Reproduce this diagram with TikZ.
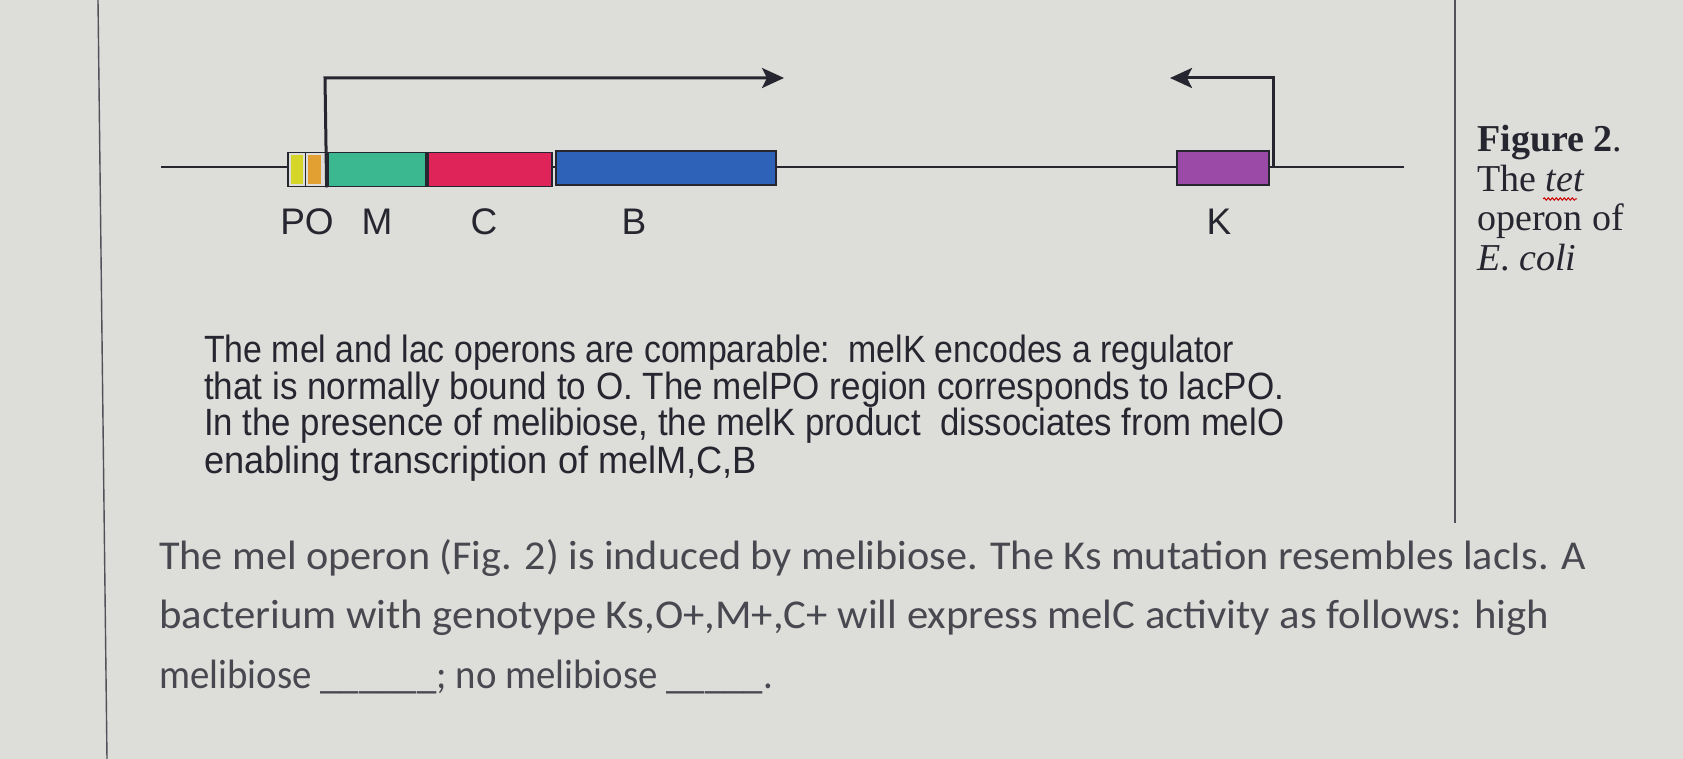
\documentclass[tikz,border=0pt]{standalone}
\usepackage{fontspec}
\setmainfont{Liberation Serif}
\newfontfamily\arialf{Liberation Sans}
\newfontfamily\calib{Carlito}
\usetikzlibrary{arrows.meta,decorations.pathmorphing}
\definecolor{paper}{RGB}{221,221,217}
\definecolor{ink}{RGB}{38,38,48}
\definecolor{greyink}{RGB}{72,72,80}
\definecolor{cyel}{RGB}{214,214,40}
\definecolor{corg}{RGB}{226,160,50}
\definecolor{cgrn}{RGB}{60,184,144}
\definecolor{cred}{RGB}{222,36,88}
\definecolor{cblu}{RGB}{46,98,184}
\definecolor{cpur}{RGB}{155,74,168}
\newsavebox\linebox
\newcommand\fitline[2]{\sbox\linebox{#2}\pgfmathsetmacro\fitratio{#1/(\the\wd\linebox)}\scalebox{\fitratio}[1]{\usebox\linebox}}
\tikzset{
  gene/.style={draw=ink, line width=1.6pt, minimum height=34pt, inner sep=0pt, anchor=west},
  dna/.style={draw=ink, line width=1.8pt},
  tss/.style={draw=ink, line width=3pt, -{Stealth[length=22pt,width=20pt,inset=5pt]}},
  glabel/.style={font=\arialf\fontsize{37}{40}\selectfont, text=ink, anchor=base, inner sep=0pt},
  para/.style={font=\arialf\fontsize{38}{40}\selectfont, text=ink, anchor=base west, inner sep=0pt},
  quest/.style={font=\calib\fontsize{41}{48}\selectfont, text=greyink, anchor=base west, inner sep=0pt},
  capt/.style={font=\fontsize{38}{40}\selectfont, text=ink, anchor=base west, inner sep=0pt},
  rule/.style={draw=ink!80, line width=1.4pt}
}
\begin{document}
\begin{tikzpicture}[x=1pt,y=-1pt]
\fill[paper] (0,0) rectangle (1683,759);
\useasboundingbox (0,0) rectangle (1683,759);
% page rules
\coordinate (lt) at (98,0); \coordinate (lb) at (107,759);
\draw[rule] (lt) -- (lb);
\coordinate (st) at (1455,0); \coordinate (sb) at (1455,523);
\draw[rule] (st) -- (sb);
% DNA
\coordinate (dnaL) at (161,167); \coordinate (dnaR) at (1404,167);
\draw[dna] (dnaL) -- (dnaR);
% genes
\node[gene, fill=paper, minimum width=38pt] (PO) at (287,169.5) {};
\fill[cyel] ([xshift=4pt,yshift=-3pt]PO.north west) rectangle ([xshift=16pt,yshift=3pt]PO.south west);
\fill[corg] ([xshift=21pt,yshift=-3pt]PO.north west) rectangle ([xshift=34pt,yshift=3pt]PO.south west);
\draw[ink, line width=1.6pt] ([xshift=18.5pt]PO.north west) -- ([xshift=18.5pt]PO.south west);
\node[gene, fill=cgrn, minimum width=98pt] (M) at (327,169.5) {};
\node[gene, fill=cred, minimum width=124pt] (C) at (427,169.5) {};
\node[gene, fill=cblu, minimum width=220pt] (B) at (555,168) {};
\node[gene, fill=cpur, minimum width=92pt] (K) at (1176,168) {};
% transcription arrows
\coordinate (mtop) at (325,78); \coordinate (mend) at (784,78);
\draw[tss] (PO.south east) -- (mtop) -- (mend);
\coordinate (kbase) at (1273,167); \coordinate (ktop) at (1273,78); \coordinate (kend) at (1170,78);
\draw[tss] (kbase) -- (ktop) -- (kend);
% gene labels
\node[glabel] (lPO) at (307,235) {PO};
\node[glabel] (lM) at (377,235) {M};
\node[glabel] (lC) at (484,235) {C};
\node[glabel] (lB) at (634,235) {B};
\node[glabel] (lK) at (1219,235) {K};
% caption
\node[capt] (c1) at (1477,152) {\textbf{Figure 2}.};
\node[capt] (c2) at (1477,192) {The \textit{tet}};
\node[capt] (c3) at (1477,231) {operon of};
\node[capt] (c4) at (1477,270) {\textit{E}. \textit{coli}};
\draw[red!80!black, line width=1pt, decorate, decoration={snake, amplitude=1.2pt, segment length=4pt}] (1543,199) -- (1577,199);
% paragraph
\node[para] (p1) at (204,362) {\fitline{1030}{The mel and lac operons are comparable:\, melK encodes a regulator}};
\node[para] (p2) at (204,399) {\fitline{1080}{that is normally bound to O. The melPO region corresponds to lacPO.}};
\node[para] (p3) at (204,435) {\fitline{1080}{In the presence of melibiose, the melK product \ dissociates from melO}};
\node[para] (p4) at (204,473) {\fitline{553}{enabling transcription of melM,C,B}};
% question
\node[quest] (q1) at (159,569) {\fitline{1427}{The mel operon (Fig. 2) is induced by melibiose. The Ks mutation resembles lacIs. A}};
\node[quest] (q2) at (159,628) {\fitline{1390}{bacterium with genotype Ks,O+,M+,C+ will express melC activity as follows: high}};
\node[quest] (q3) at (159,688) {\fitline{614}{melibiose \_\_\_\_\_\_; no melibiose \_\_\_\_\_.}};
\end{tikzpicture}
\end{document}
